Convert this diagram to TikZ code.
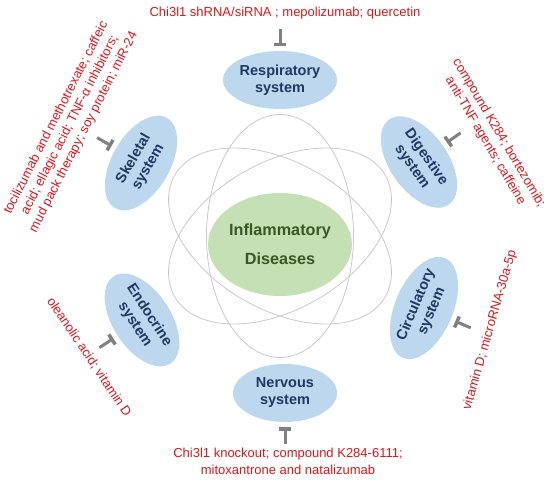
\documentclass[tikz,border=0pt]{standalone}
\usepackage{fontspec}
\setmainfont{Liberation Sans}
\usetikzlibrary{shapes.geometric,arrows.meta,calc}
\definecolor{sysfill}{RGB}{189,215,238}
\definecolor{systext}{RGB}{31,56,100}
\definecolor{disfill}{RGB}{197,224,180}
\definecolor{distext}{RGB}{56,87,35}
\definecolor{drugred}{RGB}{214,24,28}
\definecolor{inhgray}{RGB}{128,128,128}
\definecolor{orbitgray}{RGB}{200,200,200}
\begin{document}
\begin{tikzpicture}[x=1pt,y=-1pt,
 sysnode/.style={ellipse, fill=sysfill, minimum width=104pt, minimum height=58pt, inner sep=0pt, outer sep=0pt, text=systext, font=\bfseries\fontsize{14.5}{17}\selectfont, align=center},
 drug/.style={text=drugred, font=\fontsize{13}{15.5}\selectfont, align=center, inner sep=0pt},
 inh/.style={draw=inhgray, line width=3pt, -{Bar[width=12pt,line width=3.5pt]}, shorten >=5pt},
 orbit/.style={draw=orbitgray, line width=0.8pt}]
\useasboundingbox (0,0) rectangle (550,482);
\coordinate (oc) at (280,236);
\draw[orbit] (oc) ellipse [x radius=73.5, y radius=121.5];
\draw[orbit, rotate around={60:(oc)}] (oc) ellipse [x radius=73.5, y radius=121.5];
\draw[orbit, rotate around={-60:(oc)}] (oc) ellipse [x radius=73.5, y radius=121.5];
\node[ellipse, fill=disfill, minimum width=116pt, minimum height=103pt, inner sep=0pt, text=distext, font=\bfseries\fontsize{16.2}{29}\selectfont, align=center] (infl) at (280,244.5) {Inflammatory\\Diseases};
\node[sysnode] (resp) at (280,80) {Respiratory\\system};
\node[sysnode, rotate=60] (skel) at (141,163) {Skeletal\\system};
\node[sysnode, rotate=-55] (dig) at (419,162) {Digestive\\system};
\node[sysnode, rotate=-57] (endo) at (142,320) {Endocrine\\system};
\node[sysnode, rotate=67] (circ) at (424,308) {Circulatory\\system};
\node[sysnode] (nerv) at (285,393) {Nervous\\system};
\draw[inh] ($(resp.center)!1.75!(resp.north)$) -- (resp.north);
\draw[inh] ($(skel.center)!1.75!(skel.north)$) -- (skel.north);
\draw[inh] ($(dig.center)!1.75!(dig.north)$) -- (dig.north);
\draw[inh] ($(endo.center)!1.75!(endo.south)$) -- (endo.south);
\draw[inh] ($(circ.center)!1.75!(circ.south)$) -- (circ.south);
\draw[inh] ($(nerv.center)!1.75!(nerv.south)$) -- (nerv.south);
\node[drug] (lR) at (285,13) {Chi3l1 shRNA/siRNA ; mepolizumab; quercetin};
\node[drug, rotate=63] (lS) at (70,125) {tocilizumab and methotrexate; caffeic\\acid; ellagic acid; TNF-α inhibitors;\\mud pack therapy; soy protein; miR-24};
\node[drug, rotate=-59.5] (lD) at (492,137) {compound K284; bortezomib;\\anti-TNF agents; caffeine};
\node[drug, rotate=-56] (lE) at (89,357) {oleanolic acid; vitamin D};
\node[drug, rotate=74] (lC) at (490,330) {vitamin D; microRNA-30a-5p};
\node[drug, font=\fontsize{13}{17}\selectfont] (lN) at (288,461.5) {Chi3l1 knockout; compound K284-6111;\\mitoxantrone and natalizumab};
\end{tikzpicture}
\end{document}
